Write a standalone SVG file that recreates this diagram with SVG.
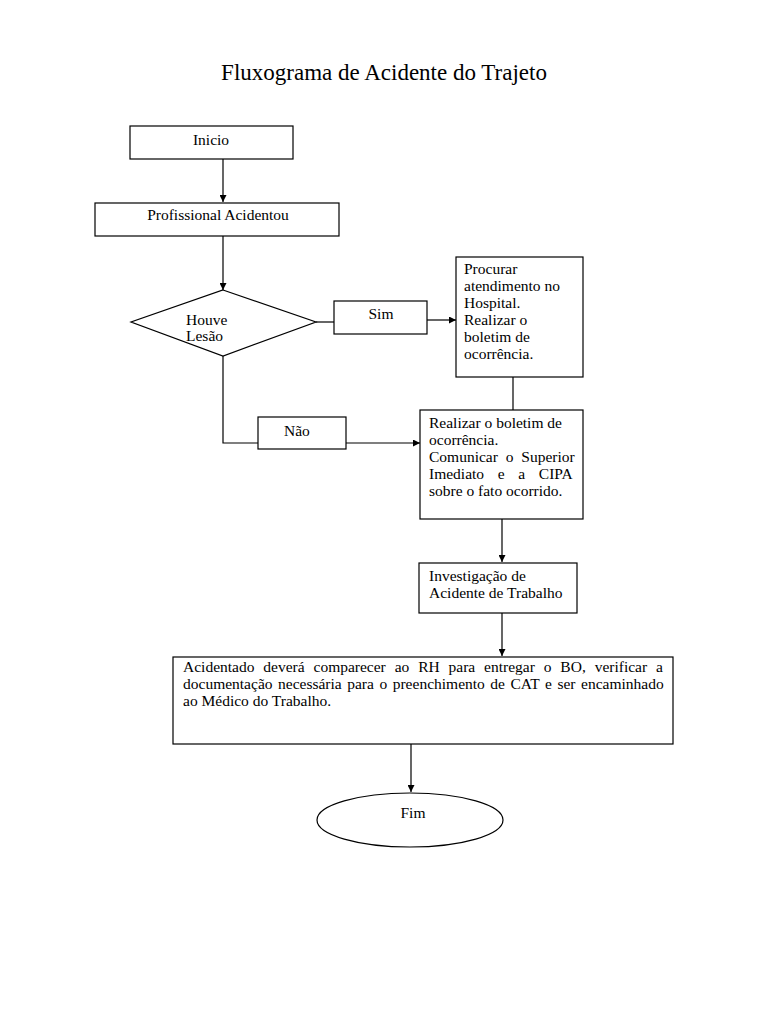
<svg xmlns="http://www.w3.org/2000/svg" width="768" height="1024" viewBox="0 0 768 1024">
<style>
.box{fill:#fff;stroke:#000;stroke-width:1.2}
.ln{fill:none;stroke:#000;stroke-width:1.2}
text{font-family:"Liberation Serif","Times New Roman",serif;font-size:15.5px;fill:#000}
.title{font-size:23px}
</style>
<defs>
<marker id="ah" viewBox="0 0 10 10" refX="10" refY="5" markerWidth="7" markerHeight="7" markerUnits="userSpaceOnUse" orient="auto">
<path d="M0,0 L10,5 L0,10 Z" fill="#000"/>
</marker>
</defs>
<rect width="768" height="1024" fill="#fff"/>
<text class="title" x="384" y="80" text-anchor="middle">Fluxograma de Acidente do Trajeto</text>

<g id="connectors">
<path class="ln" d="M223,159 V202" marker-end="url(#ah)"/>
<path class="ln" d="M223,236 V290" marker-end="url(#ah)"/>
<path class="ln" d="M316,322 H334"/>
<path class="ln" d="M427,320 H456" marker-end="url(#ah)"/>
<path class="ln" d="M513,377 V410"/>
<path class="ln" d="M223,356 V443 H258"/>
<path class="ln" d="M346,443 H420" marker-end="url(#ah)"/>
<path class="ln" d="M502,519 V562" marker-end="url(#ah)"/>
<path class="ln" d="M502,613 V656" marker-end="url(#ah)"/>
<path class="ln" d="M411,744 V792" marker-end="url(#ah)"/>
</g>

<g id="inicio">
<rect class="box" x="130" y="126" width="163" height="33"/>
<text x="211" y="145" text-anchor="middle">Inicio</text>
</g>

<g id="profissional">
<rect class="box" x="95" y="203" width="244" height="33"/>
<text x="218" y="220" text-anchor="middle">Profissional Acidentou</text>
</g>

<g id="houve-lesao">
<polygon class="box" points="223,290 316,322 223,356 131,322"/>
<text x="186" y="325">Houve</text>
<text x="186" y="341">Lesão</text>
</g>

<g id="sim">
<rect class="box" x="334" y="301" width="93" height="33"/>
<text x="381" y="319" text-anchor="middle">Sim</text>
</g>

<g id="procurar">
<rect class="box" x="456" y="257" width="127" height="120"/>
<text x="464" y="274">Procurar</text>
<text x="464" y="291">atendimento no</text>
<text x="464" y="308">Hospital.</text>
<text x="464" y="325">Realizar o</text>
<text x="464" y="342">boletim de</text>
<text x="464" y="359">ocorrência.</text>
</g>

<g id="nao">
<rect class="box" x="258" y="417" width="88" height="32"/>
<text x="284" y="436">Não</text>
</g>

<g id="realizar">
<rect class="box" x="420" y="410" width="163" height="109"/>
<text x="429" y="428">Realizar o boletim de</text>
<text x="429" y="445">ocorrência.</text>
<text x="429" y="462" style="word-spacing:4px">Comunicar o Superior</text>
<text x="429" y="479" style="word-spacing:9.8px">Imediato e a CIPA</text>
<text x="429" y="496">sobre o fato ocorrido.</text>
</g>

<g id="investigacao">
<rect class="box" x="419" y="563" width="158" height="50"/>
<text x="429" y="581">Investigação de</text>
<text x="429" y="598">Acidente de Trabalho</text>
</g>

<g id="acidentado">
<rect class="box" x="173" y="657" width="500" height="87"/>
<text x="183" y="672" style="word-spacing:5px">Acidentado deverá comparecer ao RH para entregar o BO, verificar a</text>
<text x="183" y="689" style="word-spacing:1.65px">documentação necessária para o preenchimento de CAT e ser encaminhado</text>
<text x="183" y="706">ao Médico do Trabalho.</text>
</g>

<g id="fim">
<ellipse class="box" cx="410" cy="820" rx="93" ry="27"/>
<text x="413" y="818" text-anchor="middle">Fim</text>
</g>
</svg>
